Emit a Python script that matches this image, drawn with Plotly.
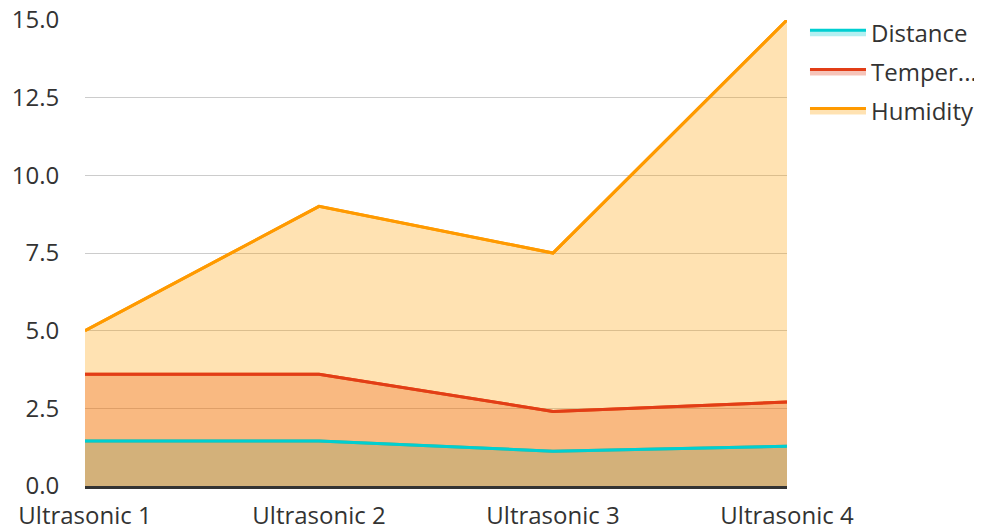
import plotly.graph_objects as go

categories = ["Ultrasonic 1", "Ultrasonic 2", "Ultrasonic 3", "Ultrasonic 4"]
distance = [1.45, 1.45, 1.12, 1.28]
temperature = [3.6, 3.6, 2.4, 2.7]
humidity = [5.0, 9.0, 7.5, 15.0]
series_names = ["Distance", "Temper...", "Humidity"]
y_ticks = [0, 2.5, 5, 7.5, 10, 12.5, 15]

line_colors = ["#00cfd1", "#e23d17", "#ff9a00"]
fill_colors = ["rgba(0,206,209,0.3)", "rgba(226,61,23,0.3)", "rgba(255,160,0,0.3)"]
series = [distance, temperature, humidity]

fig = go.Figure()
for i, (name, vals) in enumerate(zip(series_names, series)):
    fig.add_trace(go.Scatter(
        x=categories, y=vals, name=name, mode="lines",
        fill="tozeroy", fillcolor=fill_colors[i],
        line=dict(color=line_colors[i], width=3),
        legendgroup=f"g{i}", hoverinfo="skip",
    ))
for i, (name, vals) in enumerate(zip(series_names, series)):
    fig.add_trace(go.Scatter(
        x=categories, y=vals, name=name, mode="lines",
        line=dict(color=line_colors[i], width=3),
        legendgroup=f"g{i}", showlegend=False,
    ))

fig.update_layout(
    width=982, height=526,
    margin=dict(l=77, r=203, t=12, b=48),
    paper_bgcolor="white", plot_bgcolor="white",
    font=dict(family="Open Sans", size=24, color="#333333"),
    showlegend=True,
    legend=dict(xref="container", yref="container",
                x=0.8116, y=0.996, xanchor="left", yanchor="top",
                font=dict(size=24, color="#333333"),
                traceorder="grouped", tracegroupgap=5, itemwidth=56),
)
fig.update_xaxes(type="category", range=[0, 3], showgrid=False, automargin=False,
                 showline=True, linecolor="#333333", linewidth=3,
                 tickfont=dict(size=24, color="#333333"),
                 ticklabeloverflow="allow",
                 ticks="outside", ticklen=6, tickcolor="rgba(0,0,0,0)")
fig.update_yaxes(range=[0, 15], tickvals=y_ticks, tickformat=".1f", automargin=False,
                 showgrid=True, gridcolor="#cccccc", gridwidth=1,
                 zeroline=False, ticks="outside", ticklen=20,
                 tickcolor="rgba(0,0,0,0)", ticklabeloverflow="allow",
                 tickfont=dict(size=24, color="#333333"))

fig.write_html("out.html")
